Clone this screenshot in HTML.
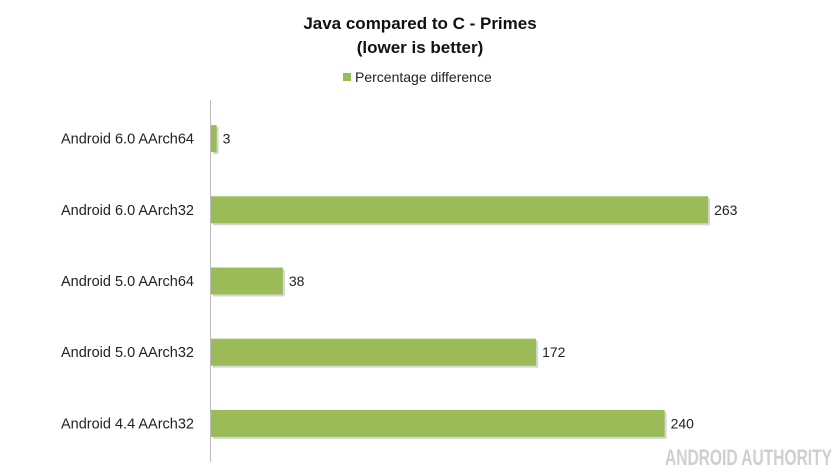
<!DOCTYPE html>
<html><head><meta charset="utf-8"><style>
body{margin:0;background:#fff;}
svg{display:block;font-family:"Liberation Sans",sans-serif;}
</style></head><body>
<svg id="chart" width="840" height="472">
<text x="420" y="29" text-anchor="middle" font-size="17" font-weight="bold" fill="#111">Java compared to C - Primes</text>
<text x="420" y="53" text-anchor="middle" font-size="17" font-weight="bold" fill="#111">(lower is better)</text>
<g>
<rect x="343" y="73" width="8" height="8" fill="#9bbb59"/>
<text x="355" y="82" font-size="14" fill="#222">Percentage difference</text>
</g>
<line x1="210.5" y1="100" x2="210.5" y2="462" stroke="#bbb" stroke-width="1"/>
<g id="bars"></g>
<text x="665" y="465" textLength="167" lengthAdjust="spacingAndGlyphs" font-size="22" fill="#cfcfcf" font-weight="bold">ANDROID AUTHORITY</text>
</svg>
<script>
const categories=["Android 6.0 AArch64","Android 6.0 AArch32","Android 5.0 AArch64","Android 5.0 AArch32","Android 4.4 AArch32"];
const values=[3,263,38,172,240];
const x0=211, scale=1.89, bandTop=103, band=71.2, bh=27;
const xs=v=>x0+v*scale;
const g=document.getElementById('bars');
const NS='http://www.w3.org/2000/svg';
categories.forEach((c,i)=>{
  const cy=bandTop+band*i+band/2;
  const sh=document.createElementNS(NS,'rect');
  sh.setAttribute('x',x0+2);sh.setAttribute('y',cy-bh/2+2);
  sh.setAttribute('width',xs(values[i])-x0);sh.setAttribute('height',bh);
  sh.setAttribute('fill','#d6d6d6');
  
  
  g.appendChild(sh);
  const r=document.createElementNS(NS,'rect');
  r.setAttribute('x',x0);r.setAttribute('y',cy-bh/2);
  r.setAttribute('width',xs(values[i])-x0);r.setAttribute('height',bh);
  r.setAttribute('fill','#9bbb59');
  
  
  g.appendChild(r);
  const t=document.createElementNS(NS,'text');
  t.setAttribute('x',xs(values[i])+6);t.setAttribute('y',cy+5);
  t.setAttribute('font-size','14');t.setAttribute('fill','#222');
  t.textContent=values[i];
  
  
  g.appendChild(t);
  const l=document.createElementNS(NS,'text');
  l.setAttribute('x',194);l.setAttribute('y',cy+5);
  l.setAttribute('text-anchor','end');
  l.setAttribute('font-size','14.5');l.setAttribute('fill','#222');
  l.textContent=c;
  
  
  g.appendChild(l);
});
</script>
</body></html>
